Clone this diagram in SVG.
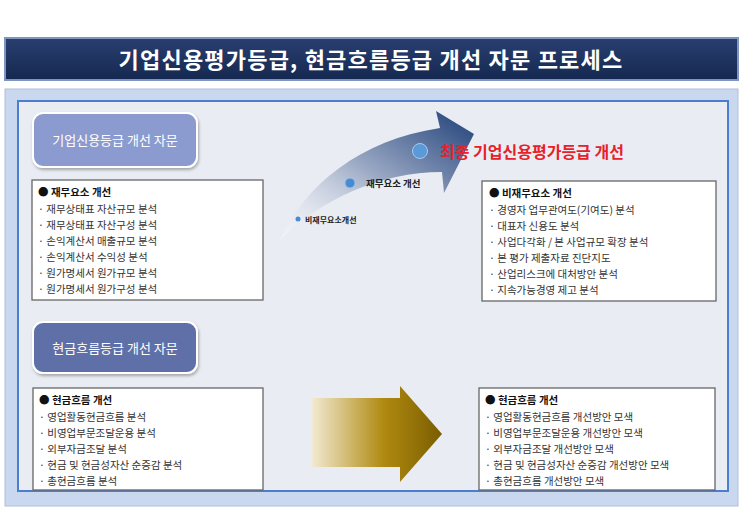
<svg xmlns="http://www.w3.org/2000/svg" width="743" height="509" viewBox="0 0 743 509">
<style>
text{font-family:"Noto Sans CJK KR","Noto Sans",sans-serif}
.it{font-size:10.5px;fill:#333}
.hd{font-size:10.5px;font-weight:bold;fill:#111}
.box{fill:#fff;stroke:#666;stroke-width:1.3}
.btn{font-size:13px;fill:#fff}
</style>
<defs>
<linearGradient id="title" x1="0" y1="0" x2="0" y2="1"><stop offset="0" stop-color="#2a3f70"/><stop offset="1" stop-color="#142850"/></linearGradient>
<linearGradient id="curve" x1="0" y1="1" x2="1" y2="0"><stop offset="0" stop-color="#ffffff" stop-opacity="0.3"/><stop offset="0.5" stop-color="#9aa8c4"/><stop offset="1" stop-color="#1e3f78"/></linearGradient>
<linearGradient id="gold" x1="0" y1="0" x2="1" y2="0"><stop offset="0" stop-color="#f2ead2"/><stop offset="0.55" stop-color="#b08a10"/><stop offset="1" stop-color="#7a5d00"/></linearGradient>
<filter id="sh"><feDropShadow dx="1" dy="2" stdDeviation="1.5" flood-opacity="0.3"/></filter>
</defs>
<rect width="743" height="509" fill="#fff"/>
<g id="title-bar">
<rect x="5" y="38" width="733" height="42" fill="url(#title)" stroke="#7f95c0" stroke-width="2"/>
<text x="371" y="68" text-anchor="middle" font-size="22" font-weight="bold" letter-spacing="1.2" fill="#fff">기업신용평가등급, 현금흐름등급 개선 자문 프로세스</text>
</g>
<rect x="5" y="89" width="733" height="417" fill="#c9d8ee" stroke="#b0c0da"/>
<rect x="18" y="101" width="710" height="390" fill="#e9edf3" stroke="#4a7fd0" stroke-width="2"/>
<g id="btn1"><rect x="33" y="113" width="164" height="54" rx="10" fill="#8b9bd0" stroke="#fff" stroke-width="2" filter="url(#sh)"/><text class="btn" x="115" y="145" text-anchor="middle">기업신용등급 개선 자문</text></g>
<g id="box1"><rect class="box" x="32" y="180" width="231" height="120"/>
<text class="hd" x="38" y="196">● 재무요소 개선</text>
<text class="it" x="38" y="213">· 재무상태표 자산규모 분석</text>
<text class="it" x="38" y="229">· 재무상태표 자산구성 분석</text>
<text class="it" x="38" y="245">· 손익계산서 매출규모 분석</text>
<text class="it" x="38" y="261">· 손익계산서 수익성 분석</text>
<text class="it" x="38" y="277">· 원가명세서 원가규모 분석</text>
<text class="it" x="38" y="293">· 원가명세서 원가구성 분석</text></g>
<g id="curve-arrow">
<path d="M280,240 C305,185 360,140 440,128 L436,111 L474,134 L444,193 L442,172 C380,172 320,200 280,240 Z" fill="url(#curve)"/>
<circle cx="298" cy="219" r="2.5" fill="#4a8ad0"/>
<text x="305" y="223" font-size="8" font-weight="bold" fill="#222">비재무요소개선</text>
<circle cx="350" cy="183" r="5" fill="#4a8ad0" stroke="#9bc0e8"/>
<text x="366" y="187" font-size="9.5" font-weight="bold" fill="#222">재무요소 개선</text>
<circle cx="420" cy="151" r="7.5" fill="#5a9ad8" stroke="#a8c8ee"/>
</g>
<text x="440" y="158" font-size="16" font-weight="bold" fill="#e8202a">최종 기업신용평가등급 개선</text>
<g id="box2"><rect class="box" x="482" y="181" width="234" height="120"/>
<text class="hd" x="489" y="197">● 비재무요소 개선</text>
<text class="it" x="489" y="214">· 경영자 업무관여도(기여도) 분석</text>
<text class="it" x="489" y="230">· 대표자 신용도 분석</text>
<text class="it" x="489" y="246">· 사업다각화 / 본 사업규모 확장 분석</text>
<text class="it" x="489" y="262">· 본 평가 제출자료 진단지도</text>
<text class="it" x="489" y="278">· 산업리스크에 대처방안 분석</text>
<text class="it" x="489" y="294">· 지속가능경영 제고 분석</text></g>
<g id="btn2"><rect x="33" y="322" width="164" height="51" rx="10" fill="#5f6fa8" stroke="#fff" stroke-width="2" filter="url(#sh)"/><text class="btn" x="115" y="353" text-anchor="middle">현금흐름등급 개선 자문</text></g>
<g id="box3"><rect class="box" x="33" y="388" width="230" height="102"/>
<text class="hd" x="39" y="404">● 현금흐름 개선</text>
<text class="it" x="39" y="421">· 영업활동현금흐름 분석</text>
<text class="it" x="39" y="437">· 비영업부문조달운용 분석</text>
<text class="it" x="39" y="453">· 외부자금조달 분석</text>
<text class="it" x="39" y="469">· 현금 및 현금성자산 순증감 분석</text>
<text class="it" x="39" y="485">· 총현금흐름 분석</text></g>
<g id="gold-arrow"><path d="M312,398 L400,398 L400,386 L442,434 L400,482 L400,467 L312,467 Z" fill="url(#gold)"/></g>
<g id="box4"><rect class="box" x="479" y="388" width="236" height="102"/>
<text class="hd" x="485" y="404">● 현금흐름 개선</text>
<text class="it" x="485" y="421">· 영업활동현금흐름 개선방안 모색</text>
<text class="it" x="485" y="437">· 비영업부문조달운용 개선방안 모색</text>
<text class="it" x="485" y="453">· 외부자금조달 개선방안 모색</text>
<text class="it" x="485" y="469">· 현금 및 현금성자산 순증감 개선방안 모색</text>
<text class="it" x="485" y="485">· 총현금흐름 개선방안 모색</text></g>
<g id="connectors"></g>
</svg>
